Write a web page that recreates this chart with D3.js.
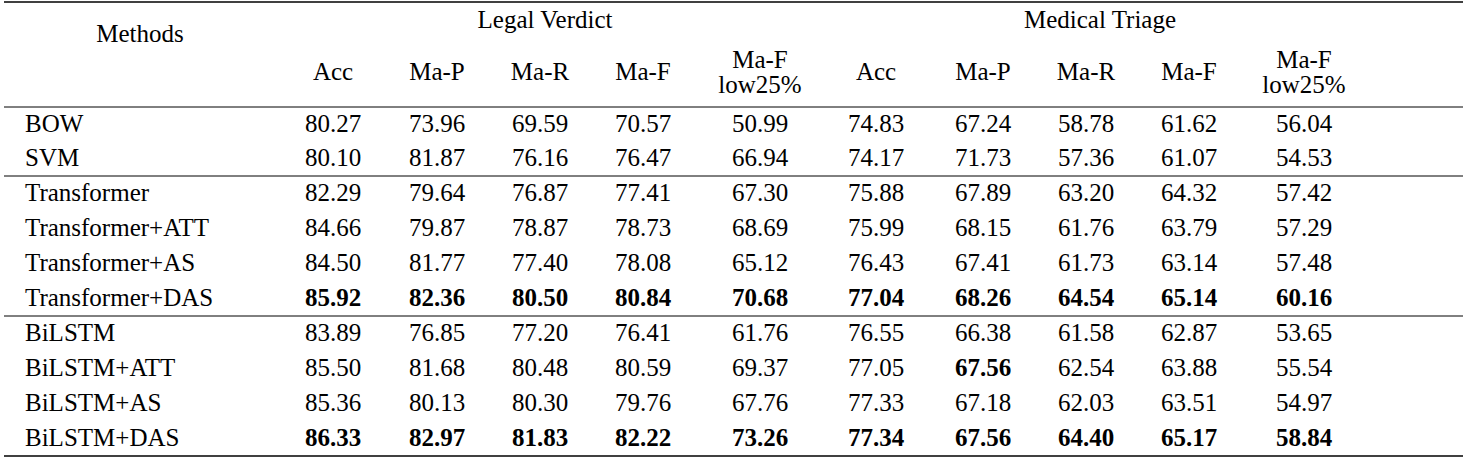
<!DOCTYPE html>
<html>
<head>
<meta charset="utf-8">
<script src="https://d3js.org/d3.v7.min.js"></script>
<style>
  body { margin: 0; background: #fff; }
  svg text { font-family: "Liberation Serif", "Tinos", "Times New Roman", Times, "DejaVu Serif", serif; font-size: 25px; fill: #000; }
</style>
</head>
<body>
<div id="chart"></div>
<script>
// data
const methods = ["BOW", "SVM", "Transformer", "Transformer+ATT", "Transformer+AS", "Transformer+DAS",
                 "BiLSTM", "BiLSTM+ATT", "BiLSTM+AS", "BiLSTM+DAS"];
const groups = ["Legal Verdict", "Medical Triage"];
const metrics = [["Acc"], ["Ma-P"], ["Ma-R"], ["Ma-F"], ["Ma-F", "low25%"]];
const legal = [
  [80.27, 73.96, 69.59, 70.57, 50.99],
  [80.10, 81.87, 76.16, 76.47, 66.94],
  [82.29, 79.64, 76.87, 77.41, 67.30],
  [84.66, 79.87, 78.87, 78.73, 68.69],
  [84.50, 81.77, 77.40, 78.08, 65.12],
  [85.92, 82.36, 80.50, 80.84, 70.68],
  [83.89, 76.85, 77.20, 76.41, 61.76],
  [85.50, 81.68, 80.48, 80.59, 69.37],
  [85.36, 80.13, 80.30, 79.76, 67.76],
  [86.33, 82.97, 81.83, 82.22, 73.26]
];
const medical = [
  [74.83, 67.24, 58.78, 61.62, 56.04],
  [74.17, 71.73, 57.36, 61.07, 54.53],
  [75.88, 67.89, 63.20, 64.32, 57.42],
  [75.99, 68.15, 61.76, 63.79, 57.29],
  [76.43, 67.41, 61.73, 63.14, 57.48],
  [77.04, 68.26, 64.54, 65.14, 60.16],
  [76.55, 66.38, 61.58, 62.87, 53.65],
  [77.05, 67.56, 62.54, 63.88, 55.54],
  [77.33, 67.18, 62.03, 63.51, 54.97],
  [77.34, 67.56, 64.40, 65.17, 58.84]
];
// bold cells: [row, column index 0..9]
const boldRows = [5, 9];
const boldCells = [[7, 6]];

const width = 1468, height = 460;
const svg = d3.select("#chart").append("svg").attr("width", width).attr("height", height);

const colX = [333, 437, 540, 643, 760, 876, 983, 1086, 1189, 1304];
const groupX = [545, 1100];
const y = d3.scalePoint().domain(d3.range(methods.length)).range([123, 437]);

// rules
const rules = [[2, 1.6], [107, 1], [176, 1], [316, 1], [456, 1.6]];
svg.selectAll("line.rule").data(rules).join("line")
  .attr("x1", 4).attr("x2", 1463)
  .attr("y1", d => d[0]).attr("y2", d => d[0])
  .attr("stroke", "#000").attr("stroke-width", d => d[1]);

// header
svg.append("text").attr("x", 140).attr("y", 33).attr("text-anchor", "middle")
  .attr("dominant-baseline", "central").text("Methods");
svg.selectAll("text.grp").data(groups).join("text")
  .attr("x", (d, i) => groupX[i]).attr("y", 19).attr("text-anchor", "middle")
  .attr("dominant-baseline", "central").text(d => d);
const heads = metrics.concat(metrics);
heads.forEach((h, i) => {
  if (h.length === 1) {
    svg.append("text").attr("x", colX[i]).attr("y", 71).attr("text-anchor", "middle")
      .attr("dominant-baseline", "central").text(h[0]);
  } else {
    h.forEach((t, k) => svg.append("text").attr("x", colX[i]).attr("y", 59 + k * 25)
      .attr("text-anchor", "middle").attr("dominant-baseline", "central").text(t));
  }
});

// body
methods.forEach((m, r) => {
  svg.append("text").attr("x", 25).attr("y", y(r)).attr("dominant-baseline", "central").text(m);
  const vals = legal[r].concat(medical[r]);
  vals.forEach((v, c) => {
    const bold = boldRows.includes(r) || boldCells.some(b => b[0] === r && b[1] === c);
    svg.append("text").attr("x", colX[c]).attr("y", y(r)).attr("text-anchor", "middle")
      .attr("dominant-baseline", "central").attr("font-weight", bold ? "bold" : null)
      .text(v.toFixed(2));
  });
});
</script>
</body>
</html>
